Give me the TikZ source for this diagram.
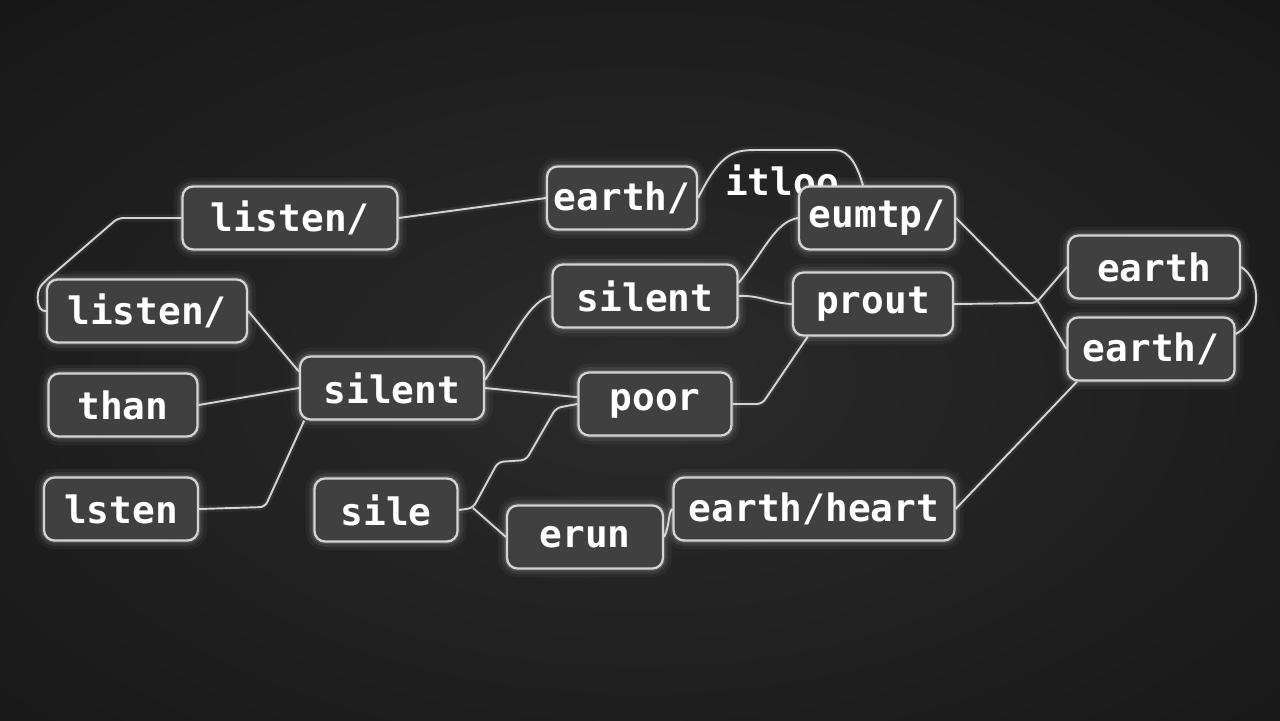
\documentclass[tikz,border=0pt]{standalone}
\usepackage{fontspec}
\setmonofont{DejaVu Sans Mono}
\usetikzlibrary{positioning}

\definecolor{bgdark}{HTML}{151515}
\definecolor{bgglow}{HTML}{2B2B2B}
\definecolor{boxfill}{HTML}{404040}
\definecolor{edgegray}{HTML}{D4D4D4}

\pgfdeclarelayer{background}
\pgfsetlayers{background,main}

\begin{document}
\begin{tikzpicture}[
        x=0.02cm,
        y=-0.02cm,
        word/.style={
            rectangle,
            draw=edgegray,
            line width=1.3pt,
            fill=boxfill,
            rounded corners=6pt,
            minimum height=1.26cm,
            inner sep=0pt,
            text=white,
            font=\ttfamily\bfseries\fontsize{21.5}{24}\selectfont,
            preaction={draw=white, line width=10pt, opacity=0.04},
            preaction={draw=white, line width=6pt, opacity=0.07},
            preaction={draw=white, line width=3pt, opacity=0.12}
        },
        stray/.style={
            text=white,
            font=\ttfamily\bfseries\fontsize{21.5}{24}\selectfont
        },
        link/.style={
            draw=edgegray,
            line width=1.1pt,
            rounded corners=3pt,
            preaction={draw=white, line width=4pt, opacity=0.06}
        }
    ]
        % Background
        \useasboundingbox (0,0) rectangle (1280,720);

        % Floating text
        \node [stray] (itloo) at (782,180) {itloo};

        % Nodes
        \node [word, minimum width=4.3cm] (listenA) at (290,218) {listen/};
        \node [word, minimum width=4.0cm] (listenB) at (147,311) {listen/};
        \node [word, minimum width=2.98cm] (than) at (123,405) {than};
        \node [word, minimum width=3.08cm] (lsten) at (121,509) {lsten};
        \node [word, minimum width=3.68cm] (silentA) at (392,388) {silent};
        \node [word, minimum width=2.86cm] (sile) at (386,510) {sile};
        \node [word, minimum width=3.0cm] (earthA) at (622,198) {earth/};
        \node [word, minimum width=3.7cm] (silentB) at (645,296) {silent};
        \node [word, minimum width=3.06cm] (poor) at (655,404) {poor};
        \node [word, minimum width=3.12cm] (erun) at (585,537) {erun};
        \node [word, minimum width=5.62cm] (heart) at (814,509) {earth/heart};
        \node [word, minimum width=3.12cm] (eumtp) at (877,218) {eumtp/};
        \node [word, minimum width=3.2cm] (prout) at (873,304) {prout};
        \node [word, minimum width=3.44cm] (earthB) at (1154,267) {earth};
        \node [word, minimum width=3.34cm] (earthC) at (1151,349) {earth/};

        % Paths
        \begin{pgfonlayer}{background}
        \fill [bgdark] (0,0) rectangle (1280,720);
        \begin{scope}
            \clip (0,0) rectangle (1280,720);
            \shade [inner color=bgglow, outer color=bgdark] (640,380) ellipse [x radius=1050, y radius=600];
        \end{scope}
        \path [link] (listenA.west) -- (118,218) -- (44,282) .. controls (36,292) and (36,312) .. (listenB.west);
        \path [link] (listenA.east) -- (earthA.west);
        \path [link] (earthA.east) .. controls (722,150) and (735,150) .. (765,150) -- (830,150) .. controls (850,150) and (858,168) .. ([xshift=-8pt]eumtp.north);
        \path [link] (listenB.east) -- (silentA.170);
        \path [link] (than.east) -- (silentA.west);
        \path [link] (lsten.east) -- (265,507) -- ([xshift=3pt]silentA.south west);
        \path [link] (silentA.5) .. controls (515,335) and (530,300) .. (silentB.west);
        \path [link] (silentA.east) -- (poor.175);
        \path [link] (sile.east) -- (473,508) -- (498,462) -- (526,460) -- (556,408) -- (poor.west);
        \path [link] (473,508) -- (erun.west);
        \path [link] (erun.east) .. controls (670,525) and (668,512) .. (heart.west);
        \path [link] (heart.east) -- ([xshift=6pt]earthC.south west);
        \path [link] (poor.east) -- (762,404) -- ([xshift=9pt]prout.south west);
        \path [link] (silentB.east) .. controls (760,295) and (770,303) .. (prout.west);
        \path [link] (silentB.8) .. controls (765,250) and (775,222) .. (eumtp.west);
        \path [link] (eumtp.east) -- (1038,301) -- (earthC.west);
        \path [link] (prout.east) -- (1036,303) -- (earthB.west);
        \path [link] (earthB.east) .. controls (1262,280) and (1262,320) .. (earthC.10);
        \end{pgfonlayer}

    \end{tikzpicture}
\end{document}
